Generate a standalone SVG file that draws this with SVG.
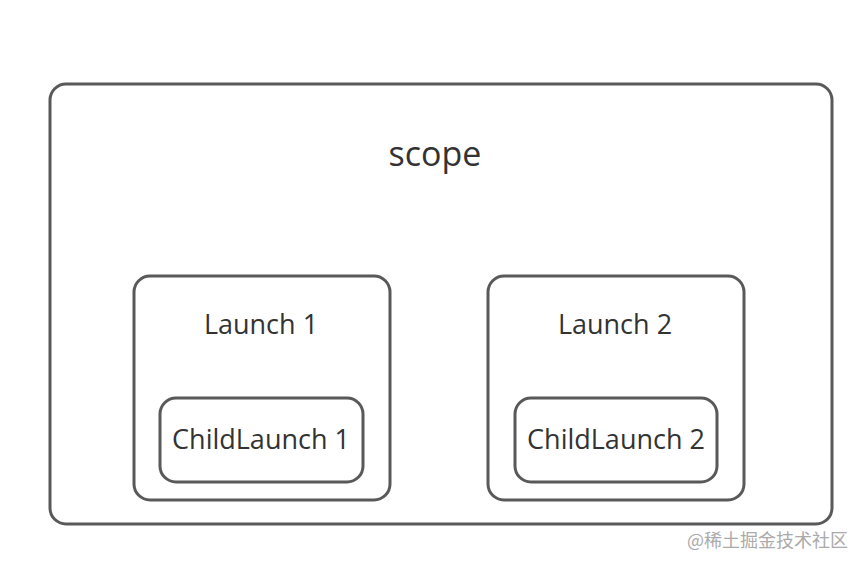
<svg xmlns="http://www.w3.org/2000/svg" width="866" height="568" viewBox="0 0 866 568">
<style>
.b{fill:#fff;stroke:#595959;stroke-width:3}
.t{font-family:"Open Sans","Liberation Sans",sans-serif;fill:#333;text-anchor:middle}
</style>
<rect width="866" height="568" fill="#fff"/>
<g id="scope"><rect class="b" x="50" y="84" width="782" height="440" rx="16"/><text class="t" x="435" y="166" font-size="34">scope</text></g>
<g id="launch1"><rect class="b" x="134" y="276" width="256" height="224" rx="16"/><text class="t" x="261" y="334" font-size="27">Launch 1</text></g>
<g id="child1"><rect class="b" x="160" y="398" width="203" height="84" rx="16"/><text class="t" x="261" y="449" font-size="27">ChildLaunch 1</text></g>
<g id="launch2"><rect class="b" x="488" y="276" width="256" height="224" rx="16"/><text class="t" x="615" y="334" font-size="27">Launch 2</text></g>
<g id="child2"><rect class="b" x="515" y="398" width="202" height="84" rx="16"/><text class="t" x="616" y="449" font-size="27">ChildLaunch 2</text></g>
<g id="connectors"/>
<text x="848" y="547" font-size="18" fill="#aaa" text-anchor="end" font-family="'Noto Sans CJK SC',sans-serif">@稀土掘金技术社区</text>
</svg>
